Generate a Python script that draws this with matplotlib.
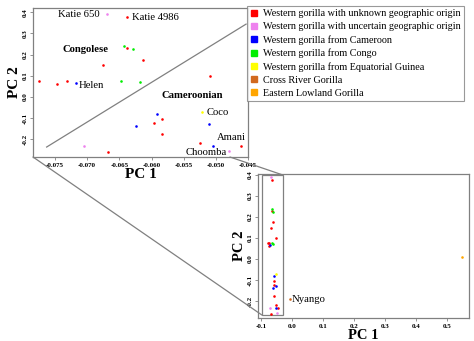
import matplotlib
matplotlib.use("Agg")
import matplotlib.pyplot as plt
from matplotlib.patches import Rectangle, ConnectionPatch
from matplotlib.lines import Line2D

plt.rcParams['font.family'] = ['Liberation Serif', 'DejaVu Serif']

# groups and colours (R colour names)
groups = ["Western gorilla with unknown geographic origin",
          "Western gorilla with uncertain geographic origin",
          "Western gorilla from Cameroon",
          "Western gorilla from Congo",
          "Western gorilla from Equatorial Guinea",
          "Cross River Gorilla",
          "Eastern Lowland Gorilla"]
colors = ["#ff0000", "#ee82ee", "#0000ff", "#00ee00", "#ffff00", "#d2691e", "#ffa500"]

# PC1 / PC2 per group
pc1_unknown = [-0.0638, -0.0638, -0.0613, -0.0675, -0.0775, -0.0747, -0.0731,
               -0.0509, -0.0584, -0.0596, -0.0584, -0.0525, -0.0461, -0.0668]
pc2_unknown = [0.377, 0.230, 0.175, 0.150, 0.075, 0.060, 0.075,
               0.100, -0.104, -0.123, -0.175, -0.217, -0.231, -0.260]
pc1_uncertain = [-0.0669, -0.0480, -0.0705]
pc2_uncertain = [0.390, -0.255, -0.231]
pc1_cameroon = [-0.0717, -0.0592, -0.0624, -0.0511, -0.0505]
pc2_cameroon = [0.065, -0.080, -0.137, -0.127, -0.231]
pc1_congo = [-0.0643, -0.0629, -0.0648, -0.0618]
pc2_congo = [0.240, 0.225, 0.075, 0.070]
pc1_eqguinea = [-0.0522]
pc2_eqguinea = [-0.070]
pc1_crossriver = [-0.006]
pc2_crossriver = [-0.190]
pc1_eastern = [0.548]
pc2_eastern = [0.010]

pc1 = [pc1_unknown, pc1_uncertain, pc1_cameroon, pc1_congo, pc1_eqguinea,
       pc1_crossriver, pc1_eastern]
pc2 = [pc2_unknown, pc2_uncertain, pc2_cameroon, pc2_congo, pc2_eqguinea,
       pc2_crossriver, pc2_eastern]

# sample names shown in the zoomed panel
names = ["Katie 650", "Katie 4986", "Helen", "Coco", "Amani", "Choomba"]
name_x = [-0.0680, -0.0630, -0.0713, -0.0514, -0.0498, -0.0547]
name_y = [0.387, 0.377, 0.052, -0.071, -0.189, -0.264]
name_ha = ["right", "left", "left", "left", "left", "left"]

top_xticks = [-0.075, -0.070, -0.065, -0.060, -0.055, -0.050, -0.045]
bot_xticks = [-0.1, 0.0, 0.1, 0.2, 0.3, 0.4, 0.5]
yticks = [-0.2, -0.1, 0.0, 0.1, 0.2, 0.3, 0.4]

W, H = 474, 341
fig = plt.figure(figsize=(W / 100, H / 100), dpi=100)
grey = "#808080"


def px_axes(l, t, r, b):
    return fig.add_axes([l / W, 1 - b / H, (r - l) / W, (b - t) / H])


def style(ax, xt, xfmt, labsize):
    for s in ax.spines.values():
        s.set_color(grey)
        s.set_linewidth(0.9)
    ax.set_xticks(xt)
    ax.set_xticklabels([xfmt(v) for v in xt], fontsize=5, fontweight='bold')
    ax.set_yticks(yticks)
    ax.set_yticklabels(["%.1f" % v for v in yticks], fontsize=5,
                       fontweight='bold', rotation=90, va='center')
    ax.tick_params(length=2.5, width=0.6, color=grey, pad=1.5)
    ax.set_xlabel("PC 1", fontsize=labsize, fontweight='bold', labelpad=0)
    ax.set_ylabel("PC 2", fontsize=labsize, fontweight='bold', labelpad=1)


# zoomed panel
ax1 = px_axes(33, 8, 248, 157)
for i in range(5):
    ax1.scatter(pc1[i], pc2[i], s=3.5, color=colors[i], lw=0, zorder=3)
ax1.set_xlim(-0.07842, -0.04503)
ax1.set_ylim(-0.283, 0.42)
ax1.plot([-0.0763, -0.0453], [-0.236, 0.344], color=grey, lw=0.9)
for n, x, y, ha in zip(names, name_x, name_y, name_ha):
    ax1.text(x, y, n, fontsize=7.7, ha=ha, va='center')
ax1.text(-0.0739, 0.222, "Congolese", fontsize=7.7, fontweight='bold', va='center')
ax1.text(-0.0585, 0.005, "Cameroonian", fontsize=7.7, fontweight='bold', va='center')
style(ax1, top_xticks, lambda v: "%.3f" % v, 11)

# full panel
ax2 = px_axes(258, 174, 469, 318)
for i in range(7):
    ax2.scatter(pc1[i], pc2[i], s=3.5, color=colors[i], lw=0, zorder=3)
ax2.set_xlim(-0.1097, 0.571)
ax2.set_ylim(-0.281, 0.405)
ax2.text(0.0, -0.195, "Nyango", fontsize=7.7, va='center')
rect = Rectangle((-0.097, -0.267), 0.068, 0.667, fill=False, ec=grey, lw=0.9)
ax2.add_patch(rect)
style(ax2, bot_xticks, lambda v: "%.1f" % v, 10.5)

# connectors from zoom panel to the rectangle
for xa, xb, yb in [(0.0, -0.097, -0.267), (0.916, -0.029, 0.40)]:
    con = ConnectionPatch(xyA=(xa, 0), coordsA=ax1.transAxes,
                          xyB=(xb, yb), coordsB=ax2.transData,
                          color=grey, lw=0.9)
    fig.add_artist(con)

handles = [Line2D([], [], ls='none', marker='s', markersize=5,
                  markerfacecolor=c, markeredgecolor=c) for c in colors]
leg = fig.legend(handles, groups, loc='upper left',
                 bbox_to_anchor=(247 / W, 1 - 6 / H), fontsize=7.3,
                 frameon=True, fancybox=False, handlelength=0.8,
                 handletextpad=0.5, borderpad=0.3, labelspacing=0.38,
                 borderaxespad=0)
leg.get_frame().set_edgecolor(grey)
leg.get_frame().set_linewidth(0.8)

fig.savefig("out.png", dpi=100)
